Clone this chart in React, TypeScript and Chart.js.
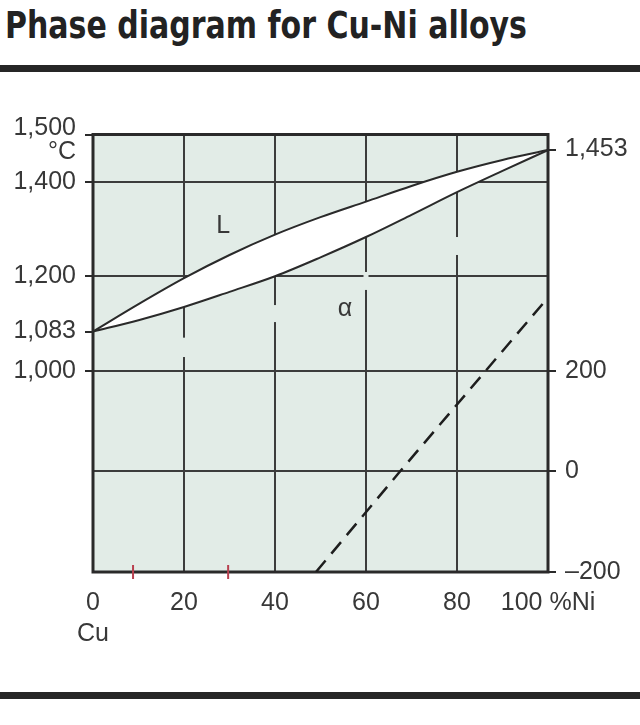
import React, { useEffect, useLayoutEffect, useRef } from "react";
import { Chart, registerables } from "chart.js";

Chart.register(...registerables);

// ---------- data ----------
const TITLE = "Phase diagram for Cu-Ni alloys";

const nickelPercent = [0, 10, 20, 30, 40, 50, 60, 70, 80, 90, 100];
const liquidusC = [1083, 1141, 1196, 1245, 1288, 1325, 1358, 1391, 1421, 1446, 1467];
const solidusC = [1083, 1107, 1135, 1167, 1200, 1240, 1283, 1330, 1378, 1423, 1467];

const magneticPercent = [49, 67.5, 100];
const magneticC = [-200, 0, 345];

const leftTicks = [1000, 1083, 1200, 1400, 1500];
const leftTopLabel = "1,500";
const leftUnit = "\u00B0C";
const rightTicks = [-200, 0, 200, 639];
const rightTickLabels = ["\u2013200", "0", "200", "1,453"];
const xTicks = [0, 20, 40, 60, 80, 100];
const xTickLabels: (string | string[])[] = [["0", "Cu"], "20", "40", "60", "80", "100 %Ni"];

const markerPercent = [8.8, 29.7];

const phaseLabels = ["L", "\u03B1"];
const phaseLabelPercent = [28.6, 55.4];
const phaseLabelC = [1306, 1131];

const gapPercent = [20, 40, 60, 80];
const gapFromC = [1029, 1103, 1171, 1245];
const gapToC = [1070, 1139, 1209, 1283];

const LEFT_MIN = 574;
const LEFT_MAX = 1500;
const RIGHT_MIN = -200;
const RIGHT_MAX = 669;

// ---------- styles ----------
const BG = "#e2ece7";
const GRID = "#3c3c3c";
const INK = "#2a2a2a";
const TEXT = "#383838";
const FONT = '"Liberation Sans", Arial, sans-serif';
const FONT_SIZE = 25;

const decorPlugin = {
  id: "decor",
  beforeDraw(chart: any) {
    const { ctx, chartArea: a } = chart;
    ctx.save();
    ctx.fillStyle = BG;
    ctx.fillRect(a.left, a.top, a.right - a.left, a.bottom - a.top);
    ctx.restore();
  },
  beforeDatasetsDraw(chart: any) {
    const { ctx, chartArea: a, scales } = chart;
    ctx.save();
    ctx.fillStyle = BG;
    gapPercent.forEach((p, i) => {
      const x = scales.x.getPixelForValue(p);
      const y1 = scales.y.getPixelForValue(gapToC[i]);
      const y2 = scales.y.getPixelForValue(gapFromC[i]);
      ctx.fillRect(x - 2.5, y1, 5, y2 - y1);
    });
    ctx.strokeStyle = INK;
    ctx.lineWidth = 3;
    ctx.strokeRect(a.left, a.top, a.right - a.left, a.bottom - a.top);
    ctx.restore();
  },
  afterDatasetsDraw(chart: any) {
    const { ctx, scales } = chart;
    ctx.save();
    ctx.fillStyle = TEXT;
    ctx.font = `${FONT_SIZE}px ${FONT}`;
    ctx.textAlign = "center";
    ctx.textBaseline = "middle";
    phaseLabels.forEach((t, i) => {
      ctx.fillText(
        t,
        scales.x.getPixelForValue(phaseLabelPercent[i]),
        scales.y.getPixelForValue(phaseLabelC[i])
      );
    });
    // top label of the left axis sits above its tick, with the unit below it
    ctx.textAlign = "right";
    const ys = scales.y;
    const topY = ys.getPixelForValue(LEFT_MAX);
    const labelX = ys.right - 8 - 9;
    ctx.fillText(leftTopLabel, labelX, topY - 6.5);
    ctx.fillText(leftUnit, labelX, topY + 17.5);
    ctx.restore();
  },
};

function Title() {
  const ref = useRef<HTMLSpanElement>(null);
  useLayoutEffect(() => {
    const el = ref.current;
    if (!el) return;
    el.style.transform = "none";
    const w = el.getBoundingClientRect().width;
    if (w > 0) el.style.transform = `scaleX(${522 / w})`;
  }, []);
  return (
    <span
      ref={ref}
      style={{
        position: "absolute",
        left: 5,
        top: 7,
        fontFamily: '"Liberation Sans Narrow", "DejaVu Sans Condensed", sans-serif',
        fontWeight: "bold",
        fontSize: 37,
        lineHeight: "37px",
        color: "#222222",
        whiteSpace: "nowrap",
        transformOrigin: "left top",
      }}
    >
      {TITLE}
    </span>
  );
}

function PhaseChart() {
  const canvasRef = useRef<HTMLCanvasElement>(null);

  useEffect(() => {
    const canvas = canvasRef.current;
    if (!canvas) return;
    const tickFont = { family: FONT, size: FONT_SIZE, lineHeight: 1.25 };

    const chart = new Chart(canvas, {
      type: "line",
      data: {
        datasets: [
          {
            label: "Liquidus",
            data: nickelPercent.map((x, i) => ({ x, y: liquidusC[i] })),
            yAxisID: "y",
            borderColor: INK,
            borderWidth: 2,
            pointRadius: 0,
            cubicInterpolationMode: "monotone",
            fill: "+1",
            backgroundColor: "#ffffff",
          },
          {
            label: "Solidus",
            data: nickelPercent.map((x, i) => ({ x, y: solidusC[i] })),
            yAxisID: "y",
            borderColor: INK,
            borderWidth: 2,
            pointRadius: 0,
            cubicInterpolationMode: "monotone",
            fill: false,
          },
          {
            label: "Magnetic transition",
            data: magneticPercent.map((x, i) => ({ x, y: magneticC[i] })),
            yAxisID: "y2",
            borderColor: "#1e1e1e",
            borderWidth: 2.5,
            borderDash: [15, 9],
            pointRadius: 0,
            fill: false,
          },
          {
            label: "Markers",
            data: markerPercent.map((x) => ({ x, y: LEFT_MIN })),
            yAxisID: "y",
            showLine: false,
            pointStyle: "line",
            rotation: 90,
            pointRadius: 7,
            borderColor: "#b8404f",
            pointBorderColor: "#b8404f",
            pointBorderWidth: 2,
            borderWidth: 2,
            clip: false,
          } as any,
        ],
      },
      options: {
        animation: false,
        responsive: false,
        devicePixelRatio: 1,
        events: [],
        layout: { padding: { top: 44.5, left: 0, right: 0, bottom: 0 } },
        plugins: {
          legend: { display: false },
          tooltip: { enabled: false },
          filler: { drawTime: "beforeDatasetsDraw" },
        },
        scales: {
          x: {
            type: "linear",
            min: 0,
            max: 100,
            afterBuildTicks: (s: any) => {
              s.ticks = xTicks.map((v) => ({ value: v }));
            },
            afterFit: (s: any) => {
              s.height = 118;
            },
            border: { display: false },
            grid: {
              color: (c: any) =>
                c.tick && (c.tick.value === 0 || c.tick.value === 100) ? "rgba(0,0,0,0)" : GRID,
              lineWidth: 2,
              drawTicks: false,
            },
            ticks: {
              color: TEXT,
              font: tickFont,
              padding: 15,
              maxRotation: 0,
              autoSkip: false,
              callback: (v: any) => xTickLabels[xTicks.indexOf(Number(v))],
            },
          },
          y: {
            type: "linear",
            position: "left",
            min: LEFT_MIN,
            max: LEFT_MAX,
            afterBuildTicks: (s: any) => {
              s.ticks = leftTicks.map((v) => ({ value: v }));
            },
            afterFit: (s: any) => {
              s.width = 93;
            },
            border: { display: false },
            grid: {
              color: (c: any) =>
                c.tick && (c.tick.value === 1083 || c.tick.value === 1500) ? "rgba(0,0,0,0)" : GRID,
              tickColor: INK,
              lineWidth: 2,
              tickWidth: 2,
              tickLength: 8,
            },
            ticks: {
              color: TEXT,
              padding: 9,
              autoSkip: false,
              font: { family: FONT, size: FONT_SIZE, lineHeight: 1.2 },
              callback: (v: any) => {
                const n = Number(v);
                return n === LEFT_MAX ? "" : n.toLocaleString("en-US");
              },
            },
          },
          y2: {
            type: "linear",
            position: "right",
            min: RIGHT_MIN,
            max: RIGHT_MAX,
            afterBuildTicks: (s: any) => {
              s.ticks = rightTicks.map((v) => ({ value: v }));
            },
            afterFit: (s: any) => {
              s.width = 92;
            },
            border: { display: false },
            grid: {
              color: (c: any) => (c.tick && c.tick.value === 0 ? GRID : "rgba(0,0,0,0)"),
              tickColor: INK,
              lineWidth: 2,
              tickWidth: 2,
              tickLength: 8,
            },
            ticks: {
              color: TEXT,
              padding: 9,
              autoSkip: false,
              font: { family: FONT, size: FONT_SIZE, lineHeight: 1.2 },
              callback: (v: any) => rightTickLabels[rightTicks.indexOf(Number(v))],
            },
          },
        },
      } as any,
      plugins: [decorPlugin],
    });

    return () => chart.destroy();
  }, []);

  return (
    <canvas
      ref={canvasRef}
      width={640}
      height={600}
      style={{ position: "absolute", left: 0, top: 90, width: 640, height: 600, display: "block" }}
    />
  );
}

export default function App() {
  return (
    <div
      style={{
        position: "absolute",
        left: 0,
        top: 0,
        width: 640,
        height: 725,
        background: "#ffffff",
        overflow: "hidden",
      }}
    >
      <Title />
      <div style={{ position: "absolute", left: 0, top: 65, width: 640, height: 7, background: "#262626" }} />
      <PhaseChart />
      <div style={{ position: "absolute", left: 0, top: 692, width: 640, height: 7, background: "#262626" }} />
    </div>
  );
}
